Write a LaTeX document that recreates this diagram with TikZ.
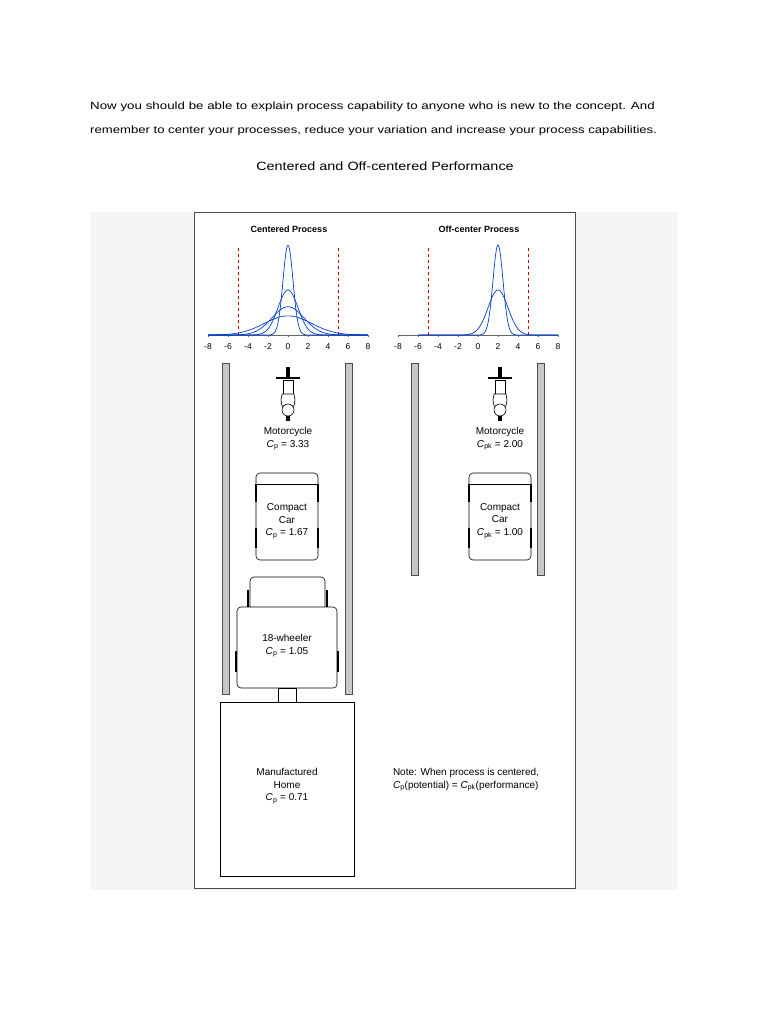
\documentclass[tikz,border=0pt]{standalone}
\usepackage{fontspec}
\setmainfont{Liberation Sans}
\newcommand{\Cp}{\textit{C}\textsubscript{p}}
\newcommand{\Cpk}{\textit{C}\textsubscript{pk}}
\begin{document}
\begin{tikzpicture}[x=1pt,y=-1pt,
  road/.style={draw=black!70,fill=black!22,line width=0.8pt},
  veh/.style={draw=black,fill=white,line width=0.6pt,rounded corners=4pt},
  wheel/.style={line width=2.2pt,black},
  curve/.style={draw=blue!70!cyan!80!black,line width=0.7pt},
  lim/.style={draw=red!80!black,dashed,line width=0.5pt},
  lbl/.style={font=\fontsize{10}{11.5}\selectfont,align=center,inner sep=0pt},
  tick/.style={font=\fontsize{8.5}{9}\selectfont,inner sep=0pt}]
\useasboundingbox (0,0) rectangle (768,1024);
\fill[white] (0,0) rectangle (768,1024);
\node[anchor=west,inner sep=0pt,font=\fontsize{10.5}{12}\selectfont] (t1) at (90,107) {\scalebox{1.27}[1]{Now you should be able to explain process capability to anyone who is new to the concept. And}};
\node[anchor=west,inner sep=0pt,font=\fontsize{10.5}{12}\selectfont] (t2) at (90,131) {\scalebox{1.25}[1]{remember to center your processes, reduce your variation and increase your process capabilities.}};
\node[inner sep=0pt,font=\fontsize{12}{14}\selectfont] (title) at (385,166) {\scalebox{1.2}[1]{Centered and Off-centered Performance}};
\fill[black!4] (90,212) rectangle (678,890);
\draw[fill=white,draw=black!70,line width=0.8pt] (194,212) rectangle (575,888);
\node[lbl,font=\fontsize{9}{10}\selectfont\bfseries] (h1) at (289,229) {Centered Process};
\node[lbl,font=\fontsize{9}{10}\selectfont\bfseries] (h2) at (479,229) {Off-center Process};
% axes
\foreach \cx/\nm in {288/a,478/b}{
  \draw[black!60,line width=0.8pt] (\cx-80,335) -- (\cx+80,335);
  \foreach \v in {-8,-6,...,8}{
    \draw[black!60] (\cx+10*\v,335) -- (\cx+10*\v,337);
    \node[tick] at (\cx+10*\v,347) {\v};
  }
  \draw[lim] (\cx-50,248) -- (\cx-50,335);
  \draw[lim] (\cx+50,248) -- (\cx+50,335);
}
\foreach \s in {0.5,1,1.59,2.35}{
  \draw[curve,domain=-8:8,samples=120,smooth] plot (288+10*\x,{335-45/\s*exp(-0.5*(\x/\s)^2)});
}
\foreach \s in {0.5,1}{
  \draw[curve,domain=-6:8,samples=120,smooth] plot (478+10*\x,{335-45/\s*exp(-0.5*((\x-2)/\s)^2)});
}
% roads
\draw[road] (222,363) rectangle (229,694);
\draw[road] (345,363) rectangle (352,694);
\draw[road] (411,363) rectangle (418,575);
\draw[road] (537,363) rectangle (544,575);
% motorcycles
\foreach \mx in {288,500}{
  \begin{scope}[shift={(\mx,0)}]
  \fill (-2,367) rectangle (2,378);
  \draw[line width=1.2pt] (-12,378) -- (12,378);
  \draw[fill=white,line width=0.6pt] (-5,380) rectangle (5,394);
  \draw[fill=white,line width=0.6pt] (-6,394) -- (-7,400) -- (-6,406) -- (6,406) -- (7,400) -- (6,394) -- cycle;
  \draw[fill=white,line width=0.6pt] (0,410) ellipse (6 and 6);
  \fill (-2,416) rectangle (2,421);
  \end{scope}
}
\node[lbl] (m1) at (288,439) {Motorcycle\\[1pt]\Cp{} = 3.33};
\node[lbl] (m2) at (500,439) {Motorcycle\\[1pt]\Cpk{} = 2.00};
% compact cars
\foreach \cx in {287,500}{
  \draw[veh] (\cx-31,473) rectangle (\cx+31,560);
  \draw[line width=0.6pt] (\cx-31,484) -- (\cx+31,484);
  \draw[wheel] (\cx-31,484) -- (\cx-31,502);
  \draw[wheel] (\cx+31,484) -- (\cx+31,502);
  \draw[wheel] (\cx-31,528) -- (\cx-31,548);
  \draw[wheel] (\cx+31,528) -- (\cx+31,548);
}
\node[lbl] (c1) at (287,521) {Compact\\[1pt]Car\\[1pt]\Cp{} = 1.67};
\node[lbl] (c2) at (500,521) {Compact\\[1pt]Car\\[1pt]\Cpk{} = 1.00};
% 18-wheeler
\draw[veh] (250,577) rectangle (325,612);
\draw[wheel] (248,590) -- (248,607);
\draw[wheel] (327,590) -- (327,607);
\draw[veh] (237,607) rectangle (337,688);
\draw[wheel] (236,651) -- (236,672);
\draw[wheel] (338,651) -- (338,672);
\node[lbl] (w) at (287,646) {18-wheeler\\[1pt]\Cp{} = 1.05};
\draw[line width=0.6pt,fill=white] (278,688) rectangle (296,702);
\draw[line width=0.6pt,fill=white] (220,702) rectangle (354,876);
\node[lbl] (home) at (287,786) {Manufactured\\[1pt]Home\\[1pt]\Cp{} = 0.71};
\node[lbl,align=left] (note) at (466,780) {Note: When process is centered,\\[1pt]\Cp(potential) = \Cpk{}(performance)};
\end{tikzpicture}
\end{document}
